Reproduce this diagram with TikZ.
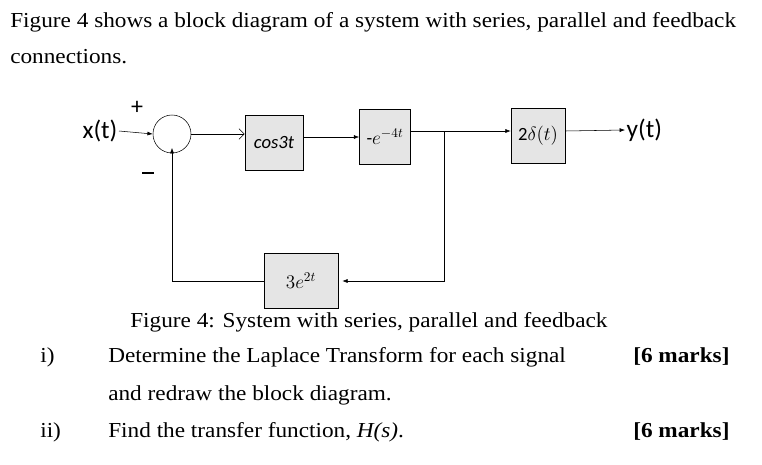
\documentclass[tikz,border=0pt]{standalone}
\usepackage{fontspec}
\setmainfont{Liberation Serif}
\newfontfamily\carl{Carlito}
\usetikzlibrary{arrows.meta}
\begin{document}
\begin{tikzpicture}[x=0.75pt,y=-0.75pt,
  blk/.style={draw,fill=gray!20,minimum width=#1*0.75pt,minimum height=41pt,inner sep=0pt,font=\carl\fontsize{14}{16}\selectfont},
  ln/.style={draw,-{Latex[length=4pt,width=3pt]}},
  txt/.style={anchor=base west,inner sep=0pt,font=\fontsize{16}{19}\selectfont,xscale=1.09,transform shape}]
\useasboundingbox (0,0) rectangle (762,464);
\node[txt] (t1) at (10,27) {Figure 4 shows a block diagram of a system with series, parallel and feedback};
\node[txt] (t2) at (10,63) {connections.};
\node[font=\carl\fontsize{19}{22}\selectfont,inner sep=1pt] (x) at (100,131) {x(t)};
\node[draw,circle,minimum size=28.5pt,inner sep=0pt] (s) at (172,134) {};
\node[font=\carl\fontsize{18}{20}\selectfont] (p) at (137,108) {+};
\node[inner sep=0pt,minimum width=11pt,minimum height=2pt] (m) at (148,173) {\rule{9pt}{1.3pt}};
\node[blk=58] (b1) at (274,143) {\textit{cos3t}};
\node[blk=51] (b2) at (385,137) {-$e^{-4t}$};
\node[blk=54] (b3) at (538,136) {2$\delta(t)$};
\node[blk=74,anchor=north] (b4) at (301,253) {$3e^{2t}$};
\node[font=\carl\fontsize{19}{22}\selectfont,inner sep=1pt,anchor=west] (y) at (625,130) {y(t)};
\coordinate (br) at (444,131);
\coordinate (fb) at (444,281);
\coordinate (fl) at (172,281);
\draw[ln] (x.east) -- (s.west);
\draw[ln,-{Straight Barb[length=4pt]}] (s.east) -- (b1.west |- s.east);
\draw[ln] (b1.east |- b2.west) -- (b2.west);
\draw (b2.east |- br) -- (br);
\draw[ln] (br) -- (b3.west |- br);
\draw[ln] (b3.east |- br) -- (y.west);
\draw[ln] (br) -- (fb) -- ([xshift=3pt]b4.east |- fb);
\draw (b4.west |- fb) -- (fl);
\draw[ln] (fl) -- ([yshift=4pt]s.south);
\node[txt] (c) at (130,327) {Figure 4: System with series, parallel and feedback};
\node[txt] (i) at (40,362) {i)};
\node[txt] (i1) at (108,362) {Determine the Laplace Transform for each signal};
\node[txt] (m1) at (633,362) {\textbf{[6 marks]}};
\node[txt] (i2) at (108,400) {and redraw the block diagram.};
\node[txt] (ii) at (40,437) {ii)};
\node[txt] (ii1) at (108,437) {Find the transfer function, \textit{H(s)}.};
\node[txt] (m2) at (633,437) {\textbf{[6 marks]}};
\end{tikzpicture}
\end{document}
